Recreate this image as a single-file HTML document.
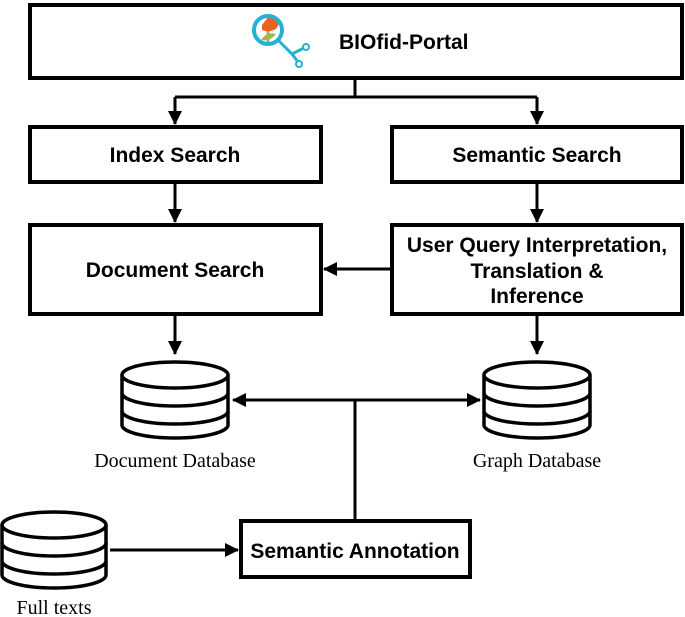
<!DOCTYPE html>
<html><head><meta charset="utf-8"><style>
html,body{margin:0;padding:0;background:#fff;}
svg{display:block;}
.t{font-family:"Liberation Sans",sans-serif;font-weight:bold;font-size:21px;fill:#000;}
.s{font-family:"Liberation Serif",serif;font-size:20px;fill:#000;}
</style></head><body>
<svg width="685" height="617" viewBox="0 0 685 617" xmlns="http://www.w3.org/2000/svg">
<defs>
<marker id="b" viewBox="0 0 14 14" markerWidth="14" markerHeight="14" refX="13" refY="7" orient="auto" markerUnits="userSpaceOnUse">
<path d="M0,0 L14,7 L0,14 Z" fill="#000"/></marker>
</defs>
<g fill="none" stroke="#000" stroke-width="4">
<rect x="30" y="5" width="652" height="73"/>
<rect x="30" y="127" width="291" height="55"/>
<rect x="392" y="127" width="290" height="55"/>
<rect x="30" y="225" width="291" height="89"/>
<rect x="392" y="225" width="290" height="89"/>
<rect x="241" y="521" width="229" height="56"/>
<g stroke-width="3">
<line x1="355" y1="78" x2="355" y2="97"/>
<line x1="175" y1="97" x2="537" y2="97"/>
<line x1="175" y1="97" x2="175" y2="124" marker-end="url(#b)"/>
<line x1="537" y1="97" x2="537" y2="124" marker-end="url(#b)"/>
<line x1="175" y1="182" x2="175" y2="222" marker-end="url(#b)"/>
<line x1="537" y1="182" x2="537" y2="222" marker-end="url(#b)"/>
<line x1="390" y1="269" x2="324" y2="269" marker-end="url(#b)"/>
<line x1="175" y1="314" x2="175" y2="354" marker-end="url(#b)"/>
<line x1="537" y1="314" x2="537" y2="354" marker-end="url(#b)"/>
<line x1="355" y1="400" x2="233" y2="400" marker-end="url(#b)"/>
<line x1="355" y1="400" x2="480" y2="400" marker-end="url(#b)"/>
<line x1="355" y1="400" x2="355" y2="521"/>
<line x1="110" y1="550" x2="238" y2="550" marker-end="url(#b)"/>
</g>
</g>
<g fill="#fff" stroke="#000" stroke-width="3.5">
<g transform="translate(175,0)">
<path d="M-53,375 L-53,425 A53,13 0 0 0 53,425 L53,375"/>
<ellipse cx="0" cy="375" rx="53" ry="13"/>
<path d="M-53,393 A53,13 0 0 0 53,393 M-53,411 A53,13 0 0 0 53,411" fill="none"/>
</g>
<g transform="translate(537,0)">
<path d="M-53,375 L-53,425 A53,13 0 0 0 53,425 L53,375"/>
<ellipse cx="0" cy="375" rx="53" ry="13"/>
<path d="M-53,393 A53,13 0 0 0 53,393 M-53,411 A53,13 0 0 0 53,411" fill="none"/>
</g>
<g transform="translate(54,150)">
<path d="M-52,375 L-52,425 A52,13 0 0 0 52,425 L52,375"/>
<ellipse cx="0" cy="375" rx="52" ry="13"/>
<path d="M-52,393 A52,13 0 0 0 52,393 M-52,411 A52,13 0 0 0 52,411" fill="none"/>
</g>
</g>
<g>
<path d="M261,40 Q267,31 276,34 Q270,42 261,40Z" fill="#a4b45a"/>
<line x1="268" y1="32" x2="268" y2="45" stroke="#a4b45a" stroke-width="3"/>
<path d="M262,25 L269,16 L277,17 L280,22 L276,29 L268,32 L262,30Z" fill="#e8641e"/>
<circle cx="268" cy="30" r="14" fill="none" stroke="#23b2d4" stroke-width="4"/>
<path d="M279,41 L292,54 L304,48 M292,54 L298,62" fill="none" stroke="#23b2d4" stroke-width="3"/>
<circle cx="306" cy="47" r="3" fill="#fff" stroke="#23b2d4" stroke-width="2"/>
<circle cx="299" cy="64" r="3" fill="#fff" stroke="#23b2d4" stroke-width="2"/>
</g>
<text class="t" x="339" y="49">BIOfid-Portal</text>
<text class="t" x="175" y="162" text-anchor="middle">Index Search</text>
<text class="t" x="537" y="162" text-anchor="middle">Semantic Search</text>
<text class="t" x="175" y="277" text-anchor="middle">Document Search</text>
<text class="t" x="537" y="252" text-anchor="middle">User Query Interpretation,</text>
<text class="t" x="537" y="278" text-anchor="middle">Translation &amp;</text>
<text class="t" x="537" y="303" text-anchor="middle">Inference</text>
<text class="t" x="355" y="558" text-anchor="middle">Semantic Annotation</text>
<text class="s" x="175" y="467" text-anchor="middle">Document Database</text>
<text class="s" x="537" y="467" text-anchor="middle">Graph Database</text>
<text class="s" x="54" y="614" text-anchor="middle">Full texts</text>
</svg>
</body></html>
